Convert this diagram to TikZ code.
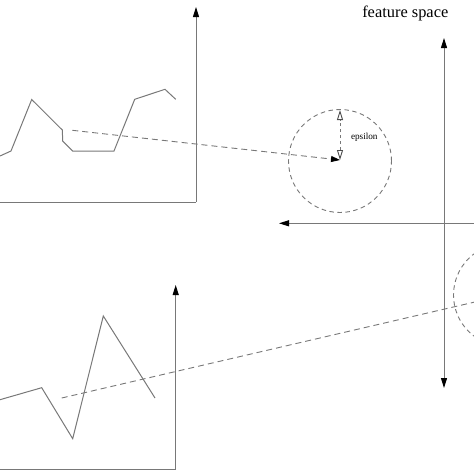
\documentclass[tikz,border=0pt]{standalone}
\usepackage{fontspec}
\setmainfont{Liberation Serif}
\usetikzlibrary{arrows.meta}
\definecolor{linegray}{RGB}{120,120,120}
\tikzset{
  axisline/.style={draw=linegray, line width=1pt},
  axisarrow/.style={axisline, -{Triangle[length=10pt,width=6pt,color=black]}},
  axisboth/.style={axisline, {Triangle[length=10pt,width=6pt,color=black]}-{Triangle[length=10pt,width=6pt,color=black]}},
  series/.style={draw=linegray, line width=1pt, line join=miter},
  mapline/.style={draw=linegray, line width=0.9pt, dash pattern=on 6pt off 4pt},
  mapname/.style={mapline, -{Triangle[length=9pt,width=6pt,color=black]}},
  ballcircle/.style={circle, draw=linegray, line width=0.9pt, dash pattern=on 4.5pt off 3.5pt, minimum size=103pt, inner sep=0pt},
  epsarrow/.style={draw=linegray, line width=0.9pt, dash pattern=on 3pt off 3pt, {Triangle[open,length=10pt,width=6pt,color=black!70]}-{Triangle[open,length=10pt,width=6pt,color=black!70]}},
  labeltext/.style={inner sep=0pt, text=black}
}
\begin{document}
\begin{tikzpicture}[x=1pt,y=-1pt]
\useasboundingbox (0,0) rectangle (474,474);
% top series panel
\coordinate (t0) at (0,202);
\coordinate (tc) at (196,202);
\coordinate (ttop) at (196,7);
\draw[axisline] (t0) -- (tc);
\draw[axisarrow] (tc) -- (ttop);
\draw[series] (0,156) -- (11,151) -- (31.7,99.5) -- (62.3,130) -- (62.7,141) -- (72.7,151) -- (114,151) -- (134.7,99.3) -- (165,89.3) -- (175.7,99.3);
% bottom series panel
\coordinate (b0) at (0,469.5);
\coordinate (bc) at (175.7,469.5);
\coordinate (btop) at (175.7,285);
\draw[axisline] (b0) -- (bc);
\draw[axisarrow] (bc) -- (btop);
\draw[series] (0,399.7) -- (41.7,387.7) -- (72.7,438.7) -- (103.3,316) -- (155,398);
% feature space axes
\coordinate (fup) at (444,38);
\coordinate (fdown) at (444,388);
\coordinate (fleft) at (279,223.3);
\coordinate (fright) at (474,223.3);
\draw[axisboth] (fdown) -- (fup);
\draw[axisarrow] (fright) -- (fleft);
\node[labeltext, font=\fontsize{16.4}{18}\selectfont] (fs) at (405.3,13) {feature space};
% balls
\node[ballcircle] (ball1) at (340,161) {};
\node[ballcircle] (ball2) at (505,295) {};
\coordinate (c1) at (340,160);
\coordinate (c1top) at (340,110);
\draw[epsarrow] (c1) -- (c1top);
\node[labeltext, font=\fontsize{9.2}{10}\selectfont] (eps) at (364.3,137.7) {epsilon};
% mapping lines
\coordinate (m1) at (72.3,130.3);
\draw[mapname] (m1) -- (c1);
\coordinate (m2) at (61.7,398);
\draw[mapline] (m2) -- (ball2.center);
\end{tikzpicture}
\end{document}
